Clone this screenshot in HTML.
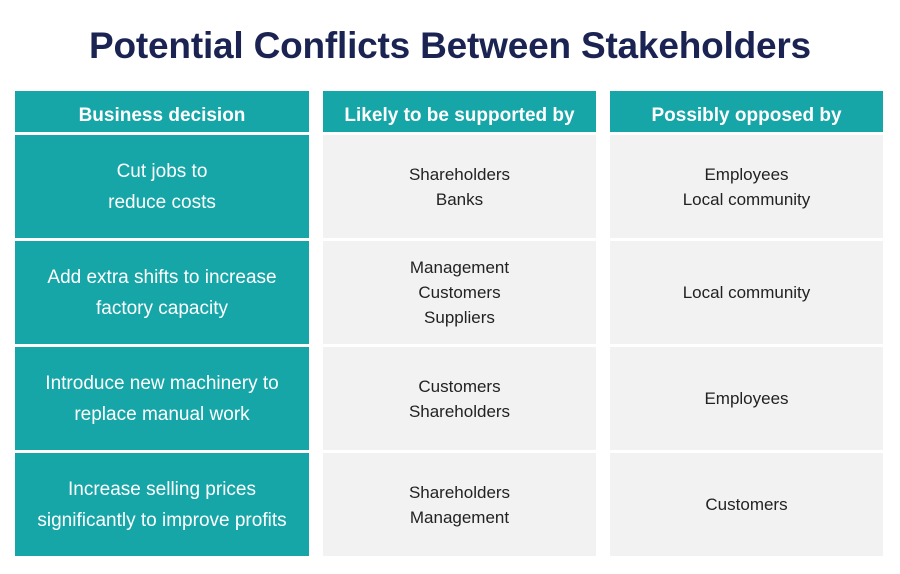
<!DOCTYPE html>
<html><head><style>
body{margin:0;width:900px;height:574px;background:#fff;font-family:"Liberation Sans",sans-serif;position:relative;overflow:hidden}
h1{position:absolute;top:25px;left:0;width:900px;margin:0;text-align:center;font-size:37px;font-weight:bold;color:#1b2352;letter-spacing:-0.2px}
.c{position:absolute;display:flex;align-items:center;justify-content:center;text-align:center;box-sizing:border-box}
.h{background:#16a6a8;color:#fff;font-weight:bold;font-size:19px;padding-top:9px}
.t{background:#16a6a8;color:#fff;font-size:19px;line-height:31px}
.g{background:#f2f2f2;color:#222;font-size:17px;line-height:25px}
</style></head><body>
<h1>Potential Conflicts Between Stakeholders</h1>
<div class="c h" style="left:15px;top:91px;width:294px;height:41px">Business decision</div>
<div class="c h" style="left:323px;top:91px;width:273px;height:41px">Likely to be supported by</div>
<div class="c h" style="left:610px;top:91px;width:273px;height:41px">Possibly opposed by</div>

<div class="c t" style="left:15px;top:135px;width:294px;height:103px">Cut jobs to<br>reduce costs</div>
<div class="c g" style="left:323px;top:135px;width:273px;height:103px">Shareholders<br>Banks</div>
<div class="c g" style="left:610px;top:135px;width:273px;height:103px">Employees<br>Local community</div>

<div class="c t" style="left:15px;top:241px;width:294px;height:103px">Add extra shifts to increase<br>factory capacity</div>
<div class="c g" style="left:323px;top:241px;width:273px;height:103px">Management<br>Customers<br>Suppliers</div>
<div class="c g" style="left:610px;top:241px;width:273px;height:103px">Local community</div>

<div class="c t" style="left:15px;top:347px;width:294px;height:103px">Introduce new machinery to<br>replace manual work</div>
<div class="c g" style="left:323px;top:347px;width:273px;height:103px">Customers<br>Shareholders</div>
<div class="c g" style="left:610px;top:347px;width:273px;height:103px">Employees</div>

<div class="c t" style="left:15px;top:453px;width:294px;height:103px">Increase selling prices<br>significantly to improve profits</div>
<div class="c g" style="left:323px;top:453px;width:273px;height:103px">Shareholders<br>Management</div>
<div class="c g" style="left:610px;top:453px;width:273px;height:103px">Customers</div>
</body></html>
